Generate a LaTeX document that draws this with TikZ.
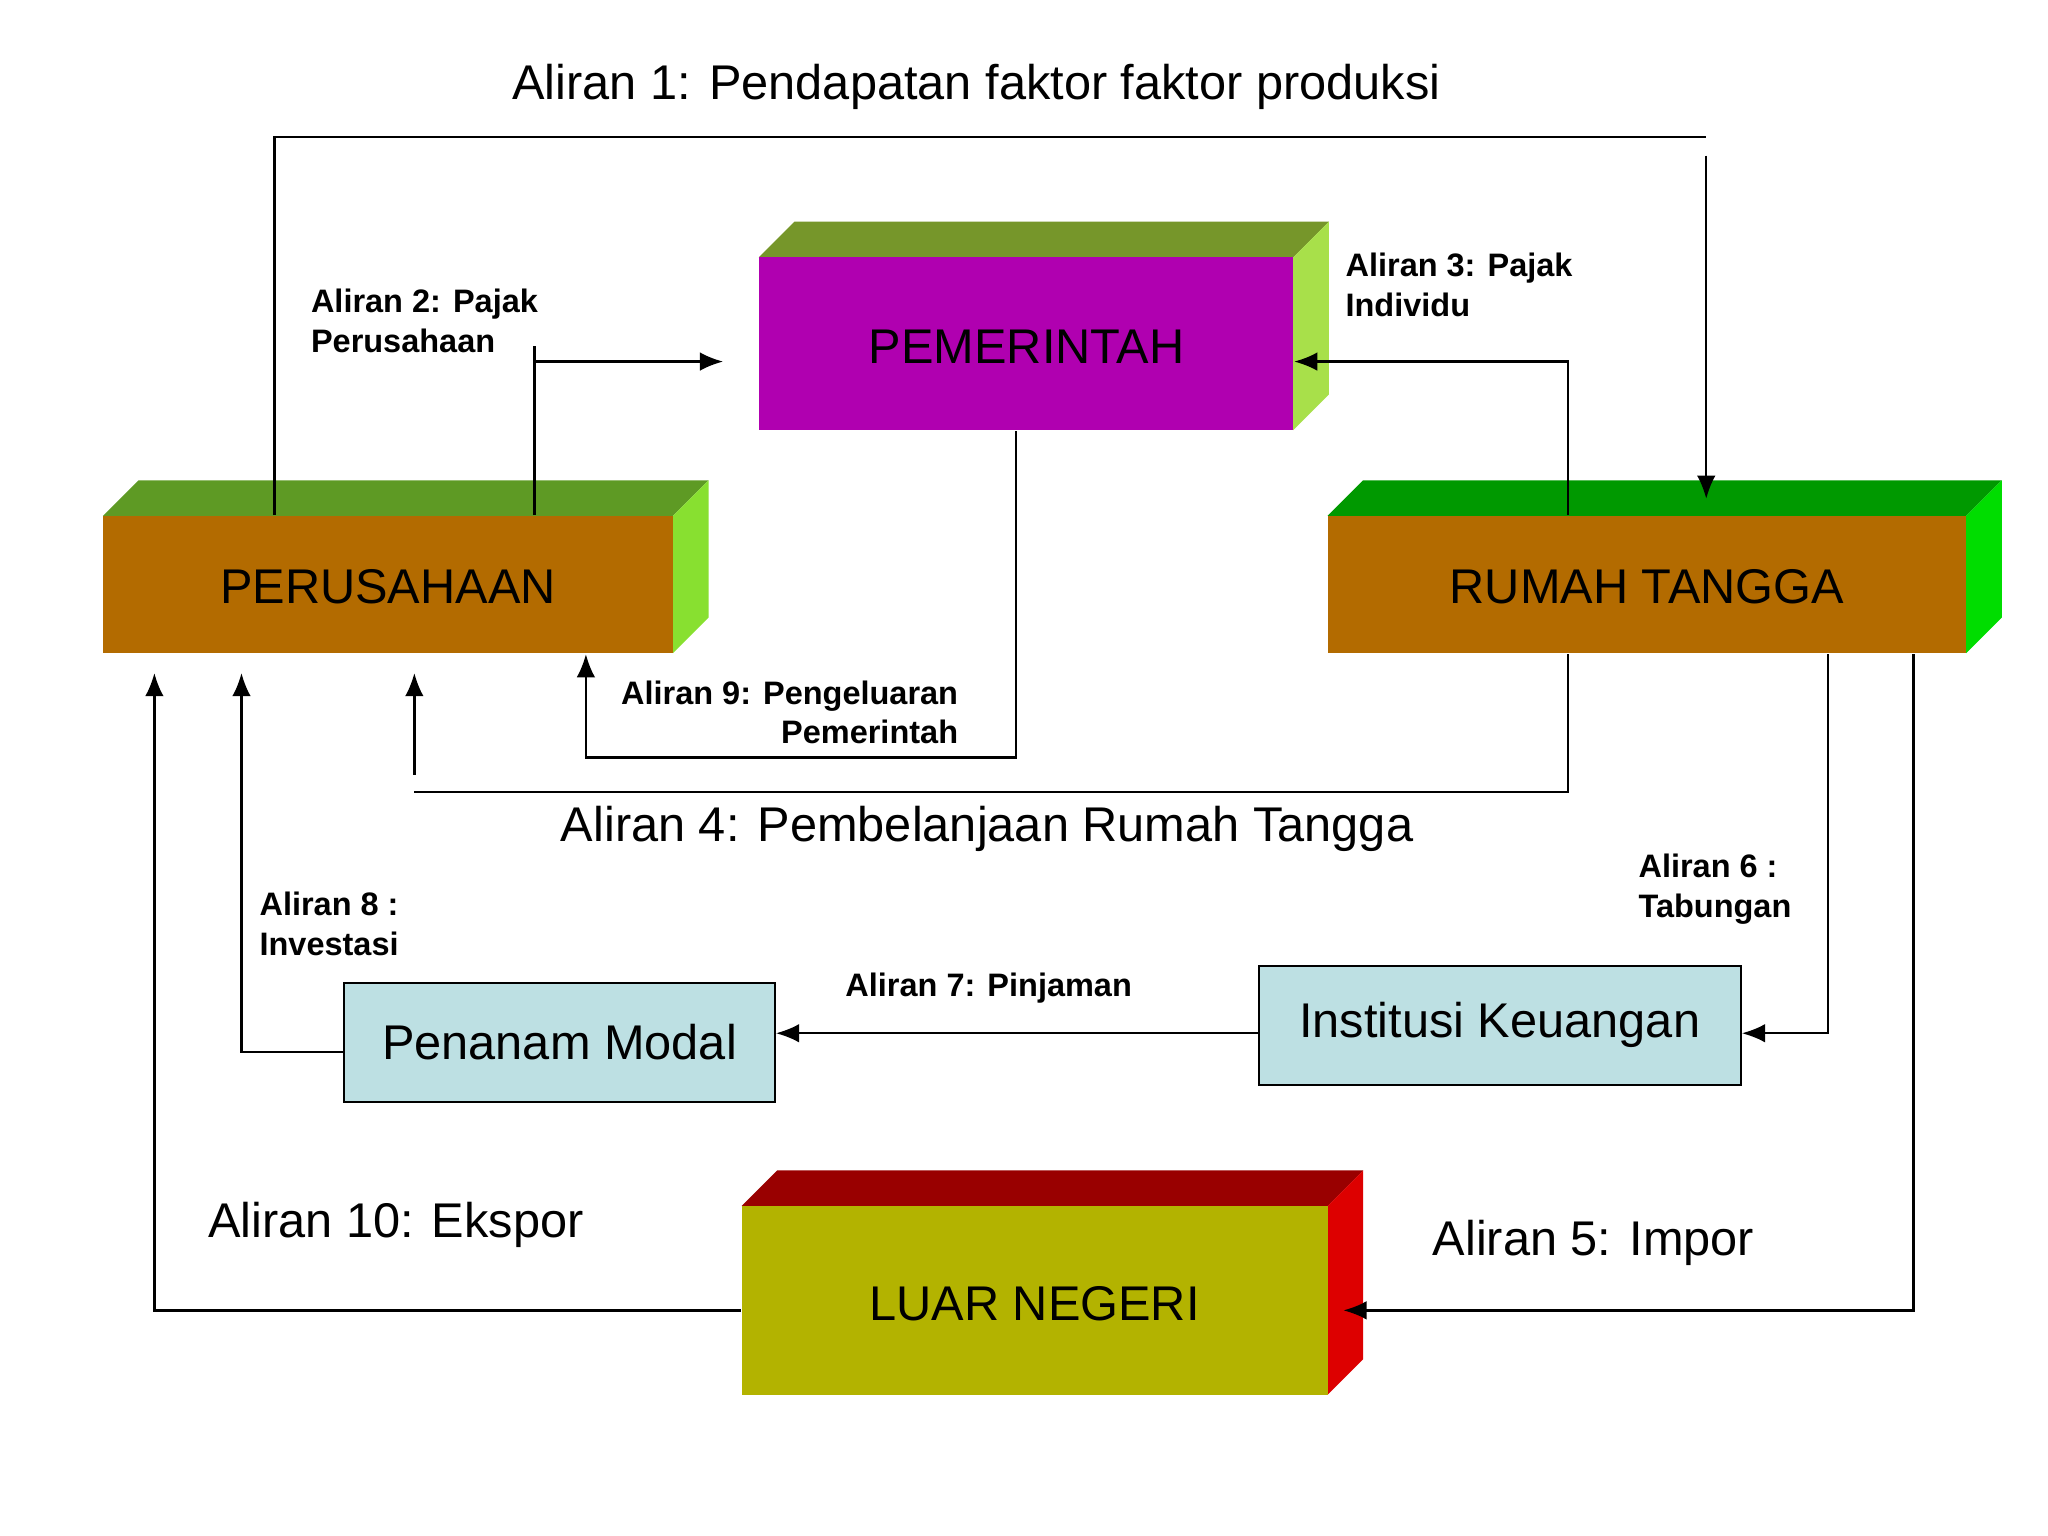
\documentclass[tikz,border=0pt]{standalone}
\usepackage{fontspec}
\setmainfont{Liberation Sans}
\usetikzlibrary{arrows.meta}
\newcommand{\bigf}{\fontsize{10.5}{12}\selectfont}
\newcommand{\sml}{\fontsize{7}{8.6}\selectfont\bfseries}
\newcommand{\boxthree}[8]{% name, x1,y1,x2,y2, front, top, side
  \fill[#7] (#2,#3) -- ++(27,-27) -- (#4+27,#3-27) -- (#4,#3) -- cycle;
  \fill[#8] (#4,#3) -- (#4+27,#3-27) -- (#4+27,#5-27) -- (#4,#5) -- cycle;
  \node[fill=#6, minimum width={(#4-#2)*0.01cm}, minimum height={(#5-#3)*0.01cm}, inner sep=0] (#1) at ({(#2+#4)/2},{(#3+#5)/2}) {};
}
\definecolor{brn}{RGB}{179,107,0}
\definecolor{pemf}{RGB}{176,0,176}
\definecolor{pemt}{RGB}{118,150,42}
\definecolor{pems}{RGB}{168,224,74}
\definecolor{pert}{RGB}{94,154,36}
\definecolor{pers}{RGB}{136,224,48}
\definecolor{rtt}{RGB}{0,153,0}
\definecolor{rts}{RGB}{0,221,0}
\definecolor{lnf}{RGB}{179,179,0}
\definecolor{lnt}{RGB}{153,0,0}
\definecolor{lns}{RGB}{221,0,0}
\definecolor{lblue}{RGB}{189,224,227}
\tikzset{ln/.style={line width=0.5pt}, arr/.style={ln,-{Latex[length=5pt,width=4pt]}},
  flat/.style={draw=black, line width=0.5pt, fill=lblue, inner sep=0, font=\bigf},
  lbl/.style={font=\sml, align=left, anchor=west, inner sep=0}}
\begin{document}
\begin{tikzpicture}[x=0.01cm,y=-0.01cm]
\useasboundingbox[fill=white] (0,0) rectangle (1552,1164);
\boxthree{pem}{575}{195}{980}{326}{pemf}{pemt}{pems}
\boxthree{per}{78}{391}{510}{495}{brn}{pert}{pers}
\boxthree{rt}{1006}{391}{1490}{495}{brn}{rtt}{rts}
\boxthree{lng}{562}{914}{1006}{1057}{lnf}{lnt}{lns}
\node[font=\bigf] at (778,263) {PEMERINTAH};
\node[font=\bigf] at (294,445) {PERUSAHAAN};
\node[font=\bigf] at (1248,445) {RUMAH TANGGA};
\node[font=\bigf] at (784,988) {LUAR NEGERI};
\node[flat, minimum width=3.26cm, minimum height=0.9cm] (pm) at (424,790) {Penanam Modal};
\node[flat, minimum width=3.65cm, minimum height=0.9cm] (ik) at (1136.5,777) {Institusi Keuangan};
\coordinate (a1) at (1293,104); \coordinate (a1b) at (1293,118);
\coordinate (a4) at (314,600); \coordinate (a4b) at (314,587);
% Aliran 1
\draw[ln] (per.north west -| 208,0) -- (208,104) -- (a1);
\draw[arr] (a1b) -- (1293,378);
% Aliran 2
\draw[ln] (per.north west -| 405,0) -- (405,262);
\draw[arr] (405,274) -- (548,274);
% Aliran 3
\draw[arr] (rt.north west -| 1188,0) -- (1188,274) -- (pem.east |- 0,274);
% Aliran 9
\draw[arr] (pem.south -| 770,0) -- (770,574) -- (444,574) -- (per.south -| 444,0);
% Aliran 4
\draw[ln] (rt.south -| 1188,0) -- (1188,600) -- (a4);
\draw[arr] (a4b) -- (314,510);
% Aliran 6
\draw[arr] (rt.south -| 1385,0) -- (1385,783) -- (ik.east |- 0,783);
% Aliran 7
\draw[arr] (ik.west |- 0,783) -- (pm.east |- 0,783);
% Aliran 8
\draw[arr] (pm.west |- 0,797) -- (183,797) -- (183,510);
% Aliran 5
\draw[arr] (rt.south -| 1450,0) -- (1450,993) -- (1018,993);
% Aliran 10
\draw[arr] (lng.west |- 0,993) -- (117,993) -- (117,510);
% labels
\node[font=\bigf] (t1) at (740,66) {Aliran 1: Pendapatan faktor faktor produksi};
\node[font=\bigf] (t4) at (748,628) {Aliran 4: Pembelanjaan Rumah Tangga};
\node[font=\bigf, anchor=west, inner sep=0] (t10) at (157,928) {Aliran 10: Ekspor};
\node[font=\bigf, anchor=west, inner sep=0] (t5) at (1085,942) {Aliran 5: Impor};
\node[lbl] (t2) at (235,243) {Aliran 2: Pajak\\Perusahaan};
\node[lbl] (t3) at (1019,216) {Aliran 3: Pajak\\Individu};
\node[lbl, align=right, anchor=north west] (t9) at (470,515) {Aliran 9: Pengeluaran\\Pemerintah};
\node[lbl] (t8) at (196,700) {Aliran 8 :\\Investasi};
\node[lbl] (t7) at (640,749) {Aliran 7: Pinjaman};
\node[lbl] (t6) at (1241,674) {Aliran 6 :\\Tabungan};
\end{tikzpicture}
\end{document}
